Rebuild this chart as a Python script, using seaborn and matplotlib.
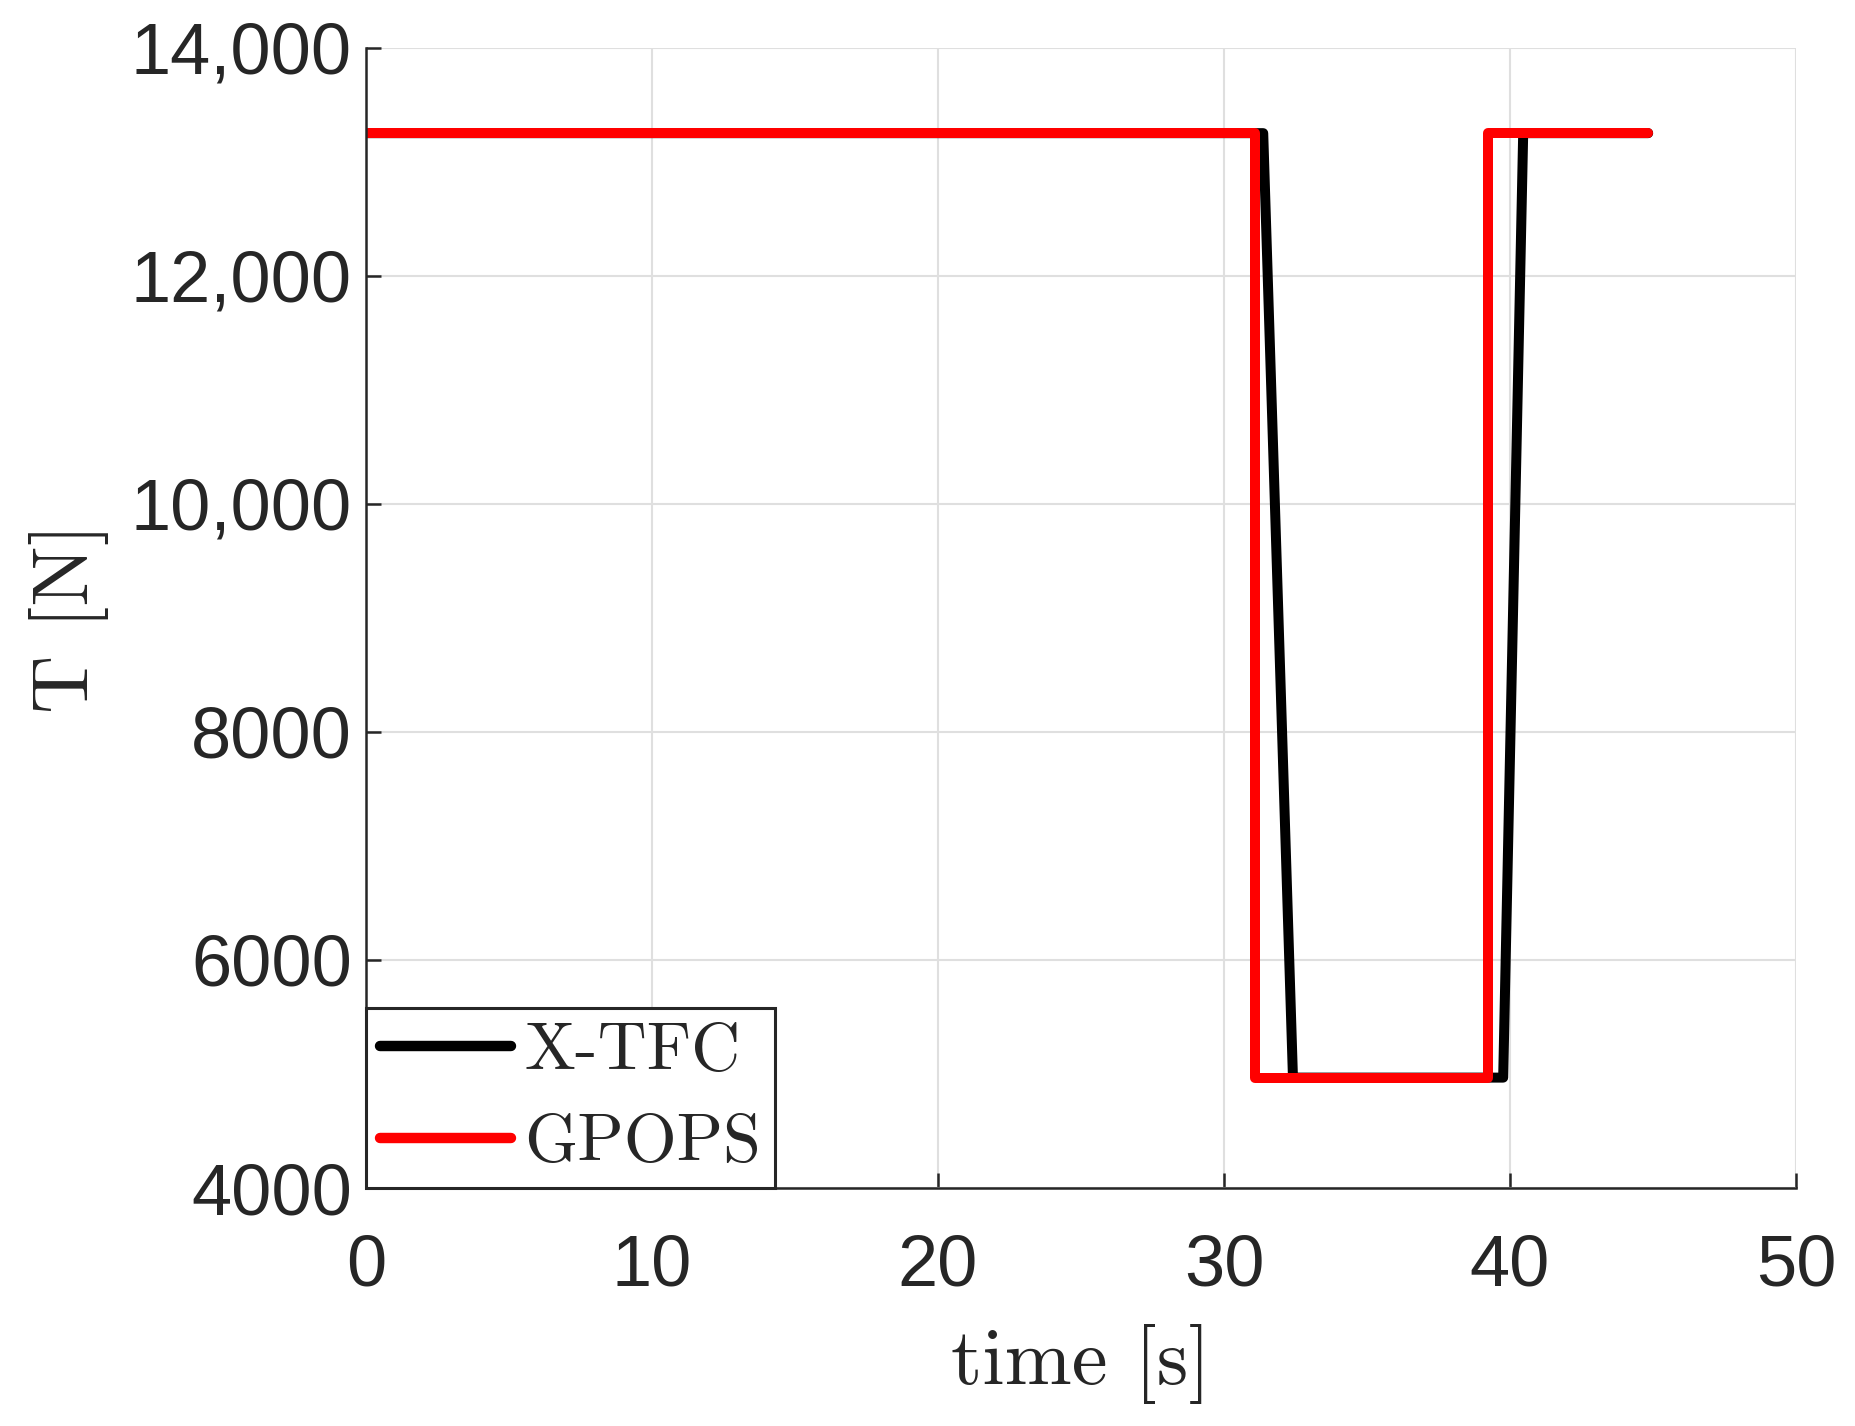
import numpy as np
import pandas as pd
import matplotlib
matplotlib.use("Agg")
import matplotlib.pyplot as plt
import seaborn as sns
from matplotlib.ticker import FuncFormatter

# Data
xtfc_t = [0.0, 31.37, 32.41, 39.76, 40.46, 44.83]
xtfc_T = [13250, 13250, 4968, 4968, 13250, 13250]
gpops_t = [0.0, 31.08, 31.08, 39.24, 39.24, 44.83]
gpops_T = [13250, 13250, 4968, 4968, 13250, 13250]
series_names = ["X-TFC", "GPOPS"]
series_colors = ["#000000", "#ff0000"]
xticks = [0, 10, 20, 30, 40, 50]
yticks = [4000, 6000, 8000, 10000, 12000, 14000]

df = pd.concat([
    pd.DataFrame({"t": xtfc_t, "T": xtfc_T, "method": series_names[0]}),
    pd.DataFrame({"t": gpops_t, "T": gpops_T, "method": series_names[1]}),
], ignore_index=True)

sns.set_theme(style="whitegrid")
plt.rcParams["font.family"] = ["Liberation Sans", "DejaVu Sans"]

fig = plt.figure(figsize=(18.56, 14.26), dpi=100)
ax = fig.add_axes([0.1972, 0.1669, 0.9677 - 0.1972, 0.9666 - 0.1669])

sns.lineplot(data=df, x="t", y="T", hue="method", hue_order=series_names,
             palette=dict(zip(series_names, series_colors)), sort=False,
             estimator=None, units="method", linewidth=7.2, ax=ax)
for ln in ax.get_lines():
    ln.set_solid_joinstyle("round")

ax.set_xlim(0, 50)
ax.set_ylim(4000, 14000)
ax.set_xticks(xticks)
ax.set_yticks(yticks)

def fmt(v, pos):
    v = int(round(v))
    return f"{v:,}" if v >= 10000 else f"{v}"
ax.yaxis.set_major_formatter(FuncFormatter(fmt))

ax.grid(True, color="#dfdfdf", linewidth=1.5)
ax.set_facecolor("white")
for s in ["top", "right"]:
    ax.spines[s].set_visible(False)
for s in ["left", "bottom"]:
    ax.spines[s].set_color("#262626")
    ax.spines[s].set_linewidth(1.8)
ax.tick_params(axis="both", direction="in", length=11, width=1.8, color="#262626",
               labelsize=52, labelcolor="#262626", left=True, bottom=True)
ax.tick_params(axis="x", pad=33)
ax.tick_params(axis="y", pad=10)

ax.set_xlabel("time [s]", fontfamily="cmr10", fontsize=58, color="#262626", labelpad=17)
ax.set_ylabel("T [N]", fontfamily="cmr10", fontsize=58, color="#262626", labelpad=16)

leg = ax.legend(loc="lower left", bbox_to_anchor=(0, 0), borderaxespad=0,
                prop={"family": "cmr10", "size": 49}, frameon=True, fancybox=False,
                handlelength=1.93, handletextpad=0.2, labelspacing=0.44,
                borderpad=0.2, title=None)
leg.get_frame().set_edgecolor("#262626")
leg.get_frame().set_linewidth(2.2)
leg.get_frame().set_alpha(1)
for h in leg.get_lines():
    h.set_linewidth(7.5)

fig.savefig("out.png", dpi=100, facecolor="white")
